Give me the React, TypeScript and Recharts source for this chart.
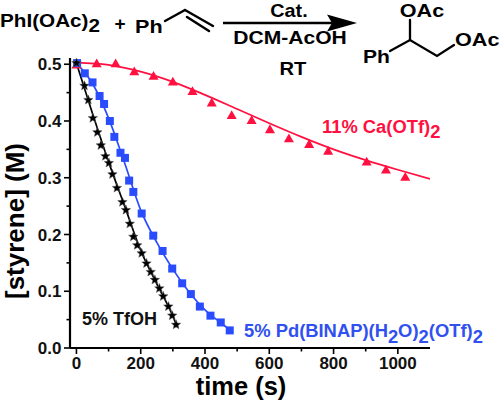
import React from "react";
import { ComposedChart, Line, Scatter, XAxis, YAxis } from "recharts";

// ---- data (time in s, [styrene] in M) ----
const caTime = [0, 63, 122, 180, 240, 300, 361, 421, 483, 545, 602, 661, 724, 783, 903, 963, 1023];
const caConc = [0.5, 0.502, 0.502, 0.488, 0.48, 0.47, 0.453, 0.433, 0.411, 0.402, 0.386, 0.37, 0.36, 0.348, 0.329, 0.315, 0.302];
const caFitTime = [0, 100, 200, 300, 400, 500, 600, 700, 800, 900, 1000, 1100];
const caFitConc = [0.503, 0.499, 0.487, 0.469, 0.446, 0.421, 0.396, 0.372, 0.35, 0.331, 0.314, 0.298];

const pdTime = [2, 26, 50, 72, 86, 104, 118, 137, 151, 164, 177, 203, 239, 268, 298, 329, 356, 384, 417, 449, 477];
const pdConc = [0.502, 0.484, 0.468, 0.444, 0.43, 0.4, 0.372, 0.344, 0.335, 0.295, 0.275, 0.237, 0.198, 0.171, 0.14, 0.114, 0.095, 0.073, 0.057, 0.045, 0.031];
const pdFitTime = [0, 50, 100, 150, 200, 250, 300, 350, 400, 450, 477];
const pdFitConc = [0.502, 0.466, 0.405, 0.326, 0.243, 0.186, 0.139, 0.099, 0.067, 0.044, 0.032];

const tfTime = [0, 25, 37, 51, 65, 76, 90, 101, 112, 126, 143, 154, 166, 177, 189, 203, 218, 231, 244, 258, 270, 286, 298, 310];
const tfConc = [0.502, 0.462, 0.437, 0.405, 0.38, 0.357, 0.338, 0.326, 0.306, 0.282, 0.257, 0.243, 0.219, 0.196, 0.181, 0.167, 0.149, 0.134, 0.12, 0.105, 0.091, 0.073, 0.057, 0.041];
const tfFitTime = [0, 50, 100, 150, 200, 250, 300, 310];
const tfFitConc = [0.502, 0.413, 0.328, 0.25, 0.172, 0.113, 0.056, 0.042];

const xTicks = [0, 100, 200, 300, 400, 500, 600, 700, 800, 900, 1000];
const yTicks = [0, 0.05, 0.1, 0.15, 0.2, 0.25, 0.3, 0.35, 0.4, 0.45, 0.5];

const zip = (ts: number[], vs: number[]) => ts.map((t, i) => ({ t, v: vs[i] }));
const caPts = zip(caTime, caConc);
const caFit = zip(caFitTime, caFitConc);
const pdPts = zip(pdTime, pdConc);
const pdFit = zip(pdFitTime, pdFitConc);
const tfPts = zip(tfTime, tfConc);
const tfFit = zip(tfFitTime, tfFitConc);

const FONT = "'Liberation Sans', Arial, Helvetica, sans-serif";
const RED = "#ff1040";
const BLUE = "#2a4cff";
const BLUE_TXT = "#3050f0";

const Triangle = (p: any) => {
  const { cx, cy } = p;
  if (cx == null || cy == null) return null;
  return <polygon points={`${cx - 5},${cy + 4.2} ${cx + 5},${cy + 4.2} ${cx},${cy - 4.6}`} fill={RED} />;
};
const Square = (p: any) => {
  const { cx, cy } = p;
  if (cx == null || cy == null) return null;
  return <rect x={cx - 4} y={cy - 4} width={8} height={8} fill={BLUE} />;
};
const Star = (p: any) => {
  const { cx, cy } = p;
  if (cx == null || cy == null) return null;
  const pts: string[] = [];
  for (let i = 0; i < 10; i++) {
    const r = i % 2 === 0 ? 5 : 2.2;
    const a = -Math.PI / 2 + (i * Math.PI) / 5;
    pts.push(`${cx + r * Math.cos(a)},${cy + r * Math.sin(a)}`);
  }
  return <polygon points={pts.join(" ")} fill="#000" stroke="#666" strokeWidth={0.5} />;
};

const YTick = (p: any) => {
  const { x, y, payload } = p;
  const v = payload.value;
  const major = Math.round(v * 100) % 10 === 0;
  return (
    <g>
      <line x1={x - (major ? 6 : 3.5)} x2={x} y1={y} y2={y} stroke="#000" strokeWidth={1.6} />
      {major && (
        <text x={x - 8.5} y={y} dy="0.36em" textAnchor="end" fontSize={17} fontWeight="bold" fontFamily={FONT} fill="#111">
          {v.toFixed(1)}
        </text>
      )}
    </g>
  );
};
const XTick = (p: any) => {
  const { x, y, payload } = p;
  const v = payload.value;
  const major = v % 200 === 0;
  return (
    <g>
      <line x1={x} x2={x} y1={y} y2={y + (major ? 6 : 3.5)} stroke="#000" strokeWidth={1.6} />
      {major && (
        <text x={x} y={y + 21} textAnchor="middle" fontSize={17} fontWeight="bold" fontFamily={FONT} fill="#111">
          {v}
        </text>
      )}
    </g>
  );
};

const SText = ({ x, y, sx = 1, size = 18, anchor = "start", fill = "#000", children }: any) => (
  <text
    transform={`translate(${x} ${y}) scale(${sx} 1)`}
    textAnchor={anchor}
    fontSize={size}
    fontWeight="bold"
    fontFamily={FONT}
    fill={fill}
  >
    {children}
  </text>
);

const Overlay = () => (
  <svg width={500} height={402} style={{ position: "absolute", left: 0, top: 0, pointerEvents: "none" }}>
    {/* reaction scheme */}
    <SText x={0} y={27} sx={1.15}>
      PhI(OAc)<tspan dy={5}>2</tspan>
    </SText>
    <SText x={120} y={30} anchor="middle" size={19}>+</SText>
    <SText x={135} y={33} sx={1.2}>Ph</SText>
    <g stroke="#000" strokeWidth={2.5} strokeLinecap="round">
      <line x1={165} y1={21} x2={185} y2={10} />
      <line x1={185} y1={10} x2={213} y2={26} />
      <line x1={187} y1={17} x2={209} y2={31} />
    </g>
    <line x1={223} y1={23} x2={334} y2={23} stroke="#000" strokeWidth={2.7} />
    <polygon points="327,14.5 357,23 327,31.5 332,23" fill="#000" />
    <SText x={289} y={17} sx={1.1} anchor="middle">Cat.</SText>
    <SText x={290} y={44} sx={1.17} anchor="middle">DCM-AcOH</SText>
    <SText x={293} y={75} sx={1.12} anchor="middle">RT</SText>
    {/* product */}
    <SText x={422} y={17} sx={1.2} anchor="middle">OAc</SText>
    <SText x={363} y={63} sx={1.17}>Ph</SText>
    <SText x={455} y={46} sx={1.2}>OAc</SText>
    <g stroke="#000" strokeWidth={2.3} strokeLinecap="round" fill="none">
      <polyline points="390,51 410,40 437,56 454,45" />
      <line x1={410} y1={20} x2={410} y2={40} />
    </g>

    {/* axis titles */}
    <text
      transform="translate(24 221) rotate(-90)"
      textAnchor="middle"
      fontSize={26}
      fontWeight="bold"
      fontFamily={FONT}
      fill="#000"
    >
      [styrene] (M)
    </text>
    <text x={241} y={395} textAnchor="middle" fontSize={25.5} fontWeight="bold" fontFamily={FONT} fill="#000">
      time (s)
    </text>

    {/* series annotations */}
    <SText x={322} y={133} sx={1.05} size={17.5} fill={RED}>
      11% Ca(OTf)<tspan dy={5}>2</tspan>
    </SText>
    <SText x={82} y={325} sx={1.03} size={17.5} fill="#111">5% TfOH</SText>
    <SText x={244} y={337} sx={1.05} size={17.5} fill={BLUE_TXT}>
      5% Pd(BINAP)(H<tspan dy={6}>2</tspan>
      <tspan dy={-6}>O)</tspan>
      <tspan dy={6}>2</tspan>
      <tspan dy={-6}>(OTf)</tspan>
      <tspan dy={6}>2</tspan>
    </SText>
  </svg>
);

export default function App() {
  return (
    <div style={{ position: "absolute", left: 0, top: 0, width: 500, height: 402, background: "#fff" }}>
      <ComposedChart width={500} height={402} margin={{ top: 58, right: 70, bottom: 0, left: 0 }}>
        <XAxis
          dataKey="t"
          type="number"
          domain={[-20, 1100]}
          ticks={xTicks}
          interval={0}
          allowDataOverflow
          height={54}
          tickSize={0}
          tickMargin={0}
          tickLine={false}
          tick={<XTick />}
          axisLine={{ stroke: "#000", strokeWidth: 2.2 }}
        />
        <YAxis
          type="number"
          domain={[0, 0.511]}
          ticks={yTicks}
          interval={0}
          allowDataOverflow
          width={70}
          tickSize={0}
          tickMargin={0}
          tickLine={false}
          tick={<YTick />}
          axisLine={{ stroke: "#000", strokeWidth: 2.2 }}
        />
        <Line data={caFit} dataKey="v" type="monotone" stroke={RED} strokeWidth={1.7} dot={false} isAnimationActive={false} />
        <Line data={pdFit} dataKey="v" type="monotone" stroke={BLUE} strokeWidth={1.7} dot={false} isAnimationActive={false} />
        <Line data={tfFit} dataKey="v" type="monotone" stroke="#000" strokeWidth={1.7} dot={false} isAnimationActive={false} />
        <Scatter data={caPts} dataKey="v" shape={<Triangle />} isAnimationActive={false} />
        <Scatter data={pdPts} dataKey="v" shape={<Square />} isAnimationActive={false} />
        <Scatter data={tfPts} dataKey="v" shape={<Star />} isAnimationActive={false} />
      </ComposedChart>
      <Overlay />
    </div>
  );
}
